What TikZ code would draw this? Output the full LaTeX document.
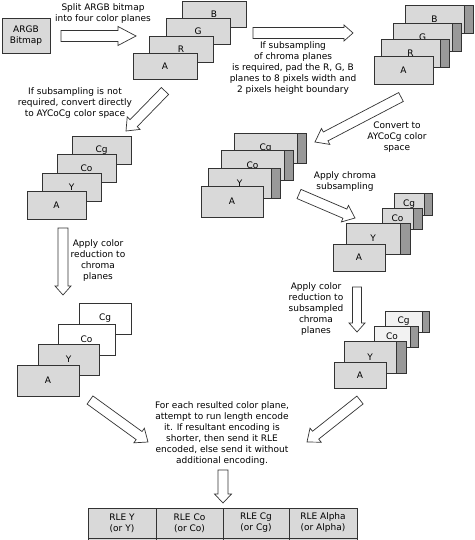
\documentclass[tikz,border=0pt]{standalone}
\usepackage{fontspec}
\setmainfont{DejaVu Sans}
\usetikzlibrary{calc}
\usetikzlibrary{positioning}
\colorlet{myline}{black!80}
\colorlet{myfill}{black!15}
\colorlet{mypad}{black!40}
\colorlet{mypale}{black!5}
\tikzset{
  txt/.style={font=\fontsize{9}{11}\selectfont},
  plane/.style 2 args={draw=myline,fill=myfill,line width=0.8,minimum width=#1,minimum height=#2,
    inner sep=0,outer sep=0,anchor=north west,txt},
  pale plane/.style 2 args={plane={#1}{#2},fill=mypale},
  white plane/.style 2 args={plane={#1}{#2},fill=white},
  pad/.style 2 args={draw=myline,fill=mypad,line width=0.8,minimum width=#1,minimum height=#2,
    inner sep=0,outer sep=0},
  note/.style={txt,align=center,inner sep=0},
  cell/.style={plane={#1}{30},align=center},
  head len/.store in=\headlen, head wid/.store in=\headwid, body wid/.store in=\bodywid,
  head len=9pt, head wid=8pt, body wid=5pt,
  block arrow/.style={draw=myline,fill=white,line width=0.7,line join=miter, % hollow fat arrow
    to path={($(\tikztostart)!\bodywid!90:(\tikztotarget)$)
      -- ($(\tikztotarget)!\headlen!(\tikztostart)!\bodywid!90:(\tikztotarget)$)
      -- ($(\tikztotarget)!\headlen!(\tikztostart)!\headwid!90:(\tikztotarget)$)
      -- (\tikztotarget)
      -- ($(\tikztotarget)!\headlen!(\tikztostart)!\headwid!270:(\tikztotarget)$)
      -- ($(\tikztotarget)!\headlen!(\tikztostart)!\bodywid!270:(\tikztotarget)$)
      -- ($(\tikztostart)!\bodywid!270:(\tikztotarget)$) -- cycle}}
}

\begin{document}
\begin{tikzpicture}[x=1pt,y=-1pt]
  \useasboundingbox (0,0) rectangle (474,540);

  \node[plane={48}{35},align=center] (argb) at (2,18) {ARGB\\Bitmap};

  % four colour planes
  \node[plane={64}{26}] (b1) at (182,1) {B};
  \node[plane={64}{26}] (g1) at (166,18) {G};
  \node[plane={64}{26}] (r1) at (149,36) {R};
  \node[plane={64}{26}] (a1) at (133,53) {A};

  % padded planes
  \node[plane={59}{28}] (b2) at (405,5) {B};
  \node[pad={9}{28}, right=0pt of b2] (b2p) {};
  \node[plane={59}{28}] (g2) at (393,23) {G};
  \node[pad={9}{28}, right=0pt of g2] (g2p) {};
  \node[plane={59}{28}] (r2) at (381,39) {R};
  \node[pad={9}{28}, right=0pt of r2] (r2p) {};
  \node[plane={59}{28}] (a2) at (374,56) {A};

  % padded AYCoCg
  \node[plane={63}{30}] (cg3) at (234,133) {Cg};
  \node[pad={9}{30}, right=0pt of cg3] (cg3p) {};
  \node[plane={63}{30}] (co3) at (221,150) {Co};
  \node[pad={9}{30}, right=0pt of co3] (co3p) {};
  \node[plane={63}{30}] (y3) at (208,168) {Y};
  \node[pad={9}{30}, right=0pt of y3] (y3p) {};
  \node[plane={62}{31}] (a3) at (201,186) {A};

  % subsampled
  \node[plane={30}{22}] (cg4) at (394,193) {Cg};
  \node[pad={8}{22}, right=0pt of cg4] (cg4p) {};
  \node[plane={31}{21}] (co4) at (382,208) {Co};
  \node[pad={9}{21}, right=0pt of co4] (co4p) {};
  \node[plane={54}{31}] (y4) at (346,223) {Y};
  \node[pad={10}{31}, right=0pt of y4] (y4p) {};
  \node[plane={52}{27}] (a4) at (333,244) {A};

  % subsampled, reduced
  \node[pale plane={37}{21}] (cg5) at (385,311) {Cg};
  \node[pad={7}{21}, right=0pt of cg5] (cg5p) {};
  \node[pale plane={36}{21}] (co5) at (374,326) {Co};
  \node[pad={8}{21}, right=0pt of co5] (co5p) {};
  \node[plane={52}{32}] (y5) at (344,341) {Y};
  \node[pad={10}{32}, right=0pt of y5] (y5p) {};
  \node[plane={52}{26}] (a5) at (334,362) {A};

  % AYCoCg
  \node[plane={59}{28}] (cg6) at (72,136) {Cg};
  \node[plane={59}{28}] (co6) at (57,154) {Co};
  \node[plane={59}{28}] (y6) at (42,173) {Y};
  \node[plane={59}{28}] (a6) at (27,191) {A};

  % AYCoCg, reduced
  \node[white plane={52}{31}] (cg7) at (79,303) {Cg};
  \node[white plane={57}{31}] (co7) at (58,324) {Co};
  \node[plane={61}{31}] (y7) at (38,344) {Y};
  \node[plane={62}{31}] (a7) at (17,365) {A};

  % output
  \node[cell=68] (rley) at (88,508) {RLE Y\\(or Y)};
  \node[cell=67] (rleco) at (156,508) {RLE Co\\(or Co)};
  \node[cell=66] (rlecg) at (223,508) {RLE Cg\\(or Cg)};
  \node[cell=68] (rlea) at (289,508) {RLE Alpha\\(or Alpha)};
  \draw[myline,fill=myfill,line width=0.8] (88,538) rectangle (156,548) (156,538) rectangle (223,548)
    (223,538) rectangle (289,548) (289,538) rectangle (357,548);

  \node[note] (split) at (103,14) {Split ARGB bitmap\\into four color planes};
  \node[note] (padtxt) at (293,68.5) {If subsampling\\of chroma planes\\is required, pad the R, G, B\\planes to 8 pixels width and\\2 pixels height boundary};
  \node[note] (direct) at (75,103.5) {If subsampling is not\\required, convert directly\\to AYCoCg color space};
  \node[note] (convert) at (397,137) {Convert to\\AYCoCg color\\space};
  \node[note] (chroma) at (345,182) {Apply chroma\\subsampling};
  \node[note] (reduce) at (98,260.5) {Apply color\\reduction to\\chroma\\planes};
  \node[note] (reducesub) at (316,309) {Apply color\\reduction to\\subsampled\\chroma\\planes};
  \node[note] (rle) at (222,433.5) {For each resulted color plane,\\attempt to run length encode\\it. If resultant encoding is\\shorter, then send it RLE\\encoded, else send it without\\additional encoding.};

  % arrow ends
  \coordinate (s1) at (61,36);   \coordinate (t1) at (136,36);
  \coordinate (s2) at (253,33);  \coordinate (t2) at (353,33);
  \coordinate (s3) at (165,91);  \coordinate (t3) at (126,131);
  \coordinate (s4) at (401,97);  \coordinate (t4) at (315,142);
  \coordinate (s5) at (299,194); \coordinate (t5) at (355,218);
  \coordinate (s6) at (63,228);  \coordinate (t6) at (63,295);
  \coordinate (s7) at (357,287); \coordinate (t7) at (357,332);
  \coordinate (s8) at (90,400);  \coordinate (t8) at (148,442);
  \coordinate (s9) at (360,400); \coordinate (t9) at (307,442);
  \coordinate (s10) at (223,470); \coordinate (t10) at (223,503);

  \draw[block arrow, head len=18pt, head wid=9.5pt, body wid=5.5pt] (s1) to (t1);
  \draw[block arrow, head len=9pt, head wid=8pt, body wid=5.5pt] (s2) to (t2);
  \draw[block arrow, head len=11pt, head wid=9pt] (s3) to (t3);
  \draw[block arrow, head len=12pt, head wid=9pt] (s4) to (t4);
  \draw[block arrow, head len=11pt, head wid=9pt] (s5) to (t5);
  \draw[block arrow] (s6) to (t6);
  \draw[block arrow, body wid=4.5pt] (s7) to (t7);
  \draw[block arrow, head len=11pt, head wid=9pt] (s8) to (t8);
  \draw[block arrow, head len=11pt, head wid=9pt] (s9) to (t9);
  \draw[block arrow, head wid=8.5pt] (s10) to (t10);
\end{tikzpicture}
\end{document}
